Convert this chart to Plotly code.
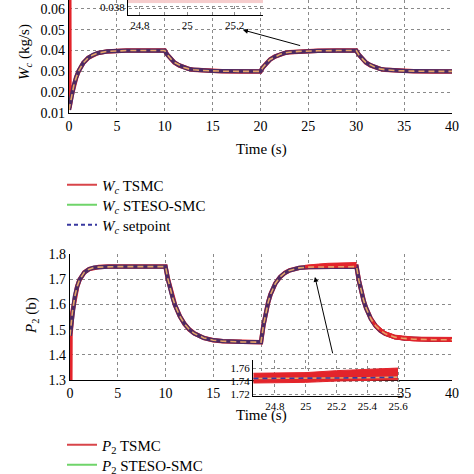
import plotly.graph_objects as go

# ---------------- data ----------------
t_w = [0, 0.25, 0.5, 0.75, 1, 1.5, 2, 2.5, 3, 4, 5, 6, 8, 10,
       10.25, 10.5, 10.75, 11, 11.5, 12, 12.5, 13, 14, 15, 16, 18, 20,
       20.25, 20.5, 20.75, 21, 21.5, 22, 22.5, 23, 24, 25, 26, 28, 30,
       30.25, 30.5, 30.75, 31, 31.5, 32, 32.5, 33, 34, 35, 36, 38, 40]
wc_set = [0.0115, 0.0181, 0.0232, 0.0271, 0.0301, 0.0341, 0.0365, 0.0379, 0.0388, 0.0396, 0.0399, 0.0400, 0.0400, 0.0400,
          0.0381, 0.0366, 0.0354, 0.0343, 0.0329, 0.0319, 0.0312, 0.0308, 0.0304, 0.0302, 0.0301, 0.0300, 0.0300,
          0.0319, 0.0334, 0.0346, 0.0357, 0.0371, 0.0381, 0.0388, 0.0392, 0.0396, 0.0398, 0.0399, 0.0400, 0.0400,
          0.0381, 0.0366, 0.0354, 0.0343, 0.0329, 0.0319, 0.0312, 0.0308, 0.0304, 0.0302, 0.0301, 0.0300, 0.0300]
t_w_spike = [0, 0.02, 0.05]
wc_spike = [0.0115, 0.085, 0.0125]

t_p = t_w
p2_set = [1.476, 1.569, 1.631, 1.671, 1.698, 1.727, 1.740, 1.746, 1.748, 1.750, 1.750, 1.750, 1.750, 1.750,
          1.701, 1.660, 1.626, 1.597, 1.553, 1.522, 1.500, 1.485, 1.467, 1.458, 1.454, 1.451, 1.450,
          1.516, 1.568, 1.608, 1.640, 1.683, 1.709, 1.725, 1.735, 1.745, 1.748, 1.749, 1.750, 1.750,
          1.695, 1.651, 1.615, 1.586, 1.543, 1.515, 1.496, 1.484, 1.470, 1.465, 1.462, 1.460, 1.460]
t_p_spike = [0, 0.02, 0.05]
p2_spike = [1.476, 1.20, 1.480]

# chattering bands of P2 TSMC
t_band_hi = [24.6, 25, 26, 27, 28, 29, 30]
band1_hi = [1.755, 1.757, 1.760, 1.763, 1.765, 1.766, 1.766]
band1_lo = [1.745, 1.746, 1.747, 1.747, 1.748, 1.748, 1.748]
t_band_lo = [31.5, 32, 33, 34, 36, 38, 40]
band2_hi = [1.551, 1.522, 1.492, 1.478, 1.470, 1.469, 1.469]
band2_lo = [1.537, 1.508, 1.478, 1.463, 1.455, 1.453, 1.453]

# top inset (zoom of Wc around t = 25)
t_in1 = [24.75, 25.32]
in1_hi = [0.0400, 0.0400]
in1_lo = [0.03834, 0.03834]

# bottom inset (zoom of P2 around t = 25)
t_in2 = [24.66, 24.8, 25.0, 25.2, 25.4, 25.6]
in2_hi = [1.752, 1.752, 1.753, 1.756, 1.758, 1.760]
in2_lo = [1.737, 1.737, 1.738, 1.740, 1.741, 1.742]
in2_set = [1.744, 1.744, 1.744, 1.745, 1.745, 1.746]

x_ticks = [0, 5, 10, 15, 20, 25, 30, 35, 40]
x_ticktext_top = ["0", "5", "10", "15", "20", "25", "30", "35", "40"]
x_ticktext_bot = ["0", "5", "10", "15", "", "", "", "35", "40"]
wc_ticks = [0.01, 0.02, 0.03, 0.04, 0.05, 0.06]
wc_ticktext = ["0.01", "0.02", "0.03", "0.04", "0.05", "0.06"]
p2_ticks = [1.3, 1.4, 1.5, 1.6, 1.7, 1.8]
p2_ticktext = ["1.3", "1.4", "1.5", "1.6", "1.7", "1.8"]
in1_xticks = [24.8, 25.0, 25.2]
in1_xtext = ["24.8", "25", "25.2"]
in1_yticks = [0.038]
in1_ytext = ["0.038"]
in2_xticks = [24.8, 25.0, 25.2, 25.4, 25.6]
in2_xtext = ["24.8", "25", "25.2", "25.4", "25.6"]
in2_yticks = [1.72, 1.74, 1.76]
in2_ytext = ["1.72", "1.74", "1.76"]

legend_names = ["<i>W</i><sub><i>c</i></sub> TSMC", "<i>W</i><sub><i>c</i></sub> STESO-SMC",
                "<i>W</i><sub><i>c</i></sub> setpoint", "<i>P</i><sub>2</sub> TSMC", "<i>P</i><sub>2</sub> STESO-SMC"]

RED = "#e3242b"
LEG_RED = "#d8454a"
LEG_GREEN = "#6fd46a"
LEG_BLUE = "#3838a0"
DARK = "#4e2a62"
ORANGE = "#e6a468"
FONT = "Liberation Serif"

W = H = 474
def px(x):
    return x / W
def py(y):
    return 1 - y / H

fig = go.Figure()

def band(t, lo, hi, xa, ya, col):
    fig.add_trace(go.Scatter(x=t, y=lo, mode="lines", line=dict(color=col, width=1),
                             xaxis=xa, yaxis=ya, showlegend=False))
    fig.add_trace(go.Scatter(x=t, y=hi, mode="lines", line=dict(color=col, width=1),
                             fill="tonexty", fillcolor=col, xaxis=xa, yaxis=ya, showlegend=False))

def main_lines(t, setv, t_sp, v_sp, xa, ya, bands=()):
    # TSMC
    fig.add_trace(go.Scatter(x=t_sp + t[1:], y=v_sp + setv[1:], mode="lines",
                             line=dict(color=RED, width=4.5), xaxis=xa, yaxis=ya, showlegend=False))
    # STESO-SMC (drawn over the TSMC curve)
    fig.add_trace(go.Scatter(x=t, y=setv, mode="lines", line=dict(color=DARK, width=4.2),
                             xaxis=xa, yaxis=ya, showlegend=False))
    for b in bands:
        band(*b, xa, ya, RED)
    # setpoint
    fig.add_trace(go.Scatter(x=t, y=setv, mode="lines", line=dict(color=ORANGE, width=1.6, dash="6px,4px"),
                             xaxis=xa, yaxis=ya, showlegend=False))

main_lines(t_w, wc_set, t_w_spike, wc_spike, "x", "y")
main_lines(t_p, p2_set, t_p_spike, p2_spike, "x2", "y2",
           bands=[(t_band_hi, band1_lo, band1_hi), (t_band_lo, band2_lo, band2_hi)])

# top inset
band(t_in1, in1_lo, in1_hi, "x3", "y3", "#f6cccc")

# bottom inset
band(t_in2, in2_lo, in2_hi, "x4", "y4", RED)
fig.add_trace(go.Scatter(x=t_in2, y=in2_set, mode="lines", line=dict(color=ORANGE, width=1.6),
                         xaxis="x4", yaxis="y4", showlegend=False))
fig.add_trace(go.Scatter(x=t_in2, y=in2_set, mode="lines", line=dict(color=LEG_BLUE, width=1.6, dash="5px,4px"),
                         xaxis="x4", yaxis="y4", showlegend=False))

# legend entries, one legend per entry
leg_cols = [LEG_RED, LEG_GREEN, LEG_BLUE, LEG_RED, LEG_GREEN]
leg_dash = ["solid", "solid", "4px,3px", "solid", "solid"]
leg_keys = ["legend", "legend2", "legend3", "legend4", "legend5"]
leg_ypix = [185, 205, 225, 445, 465]
leg_axes = [("x", "y")] * 3 + [("x2", "y2")] * 2
legend_layout = {}
for name, col, dash, key, ypix, (xa, ya) in zip(legend_names, leg_cols, leg_dash, leg_keys, leg_ypix, leg_axes):
    fig.add_trace(go.Scatter(x=[None], y=[None], mode="lines", name=name,
                             line=dict(color=col, width=1.8, dash=dash), xaxis=xa, yaxis=ya, legend=key))
    legend_layout[key] = dict(x=px(62), y=py(ypix), xanchor="left", yanchor="middle", bgcolor="rgba(0,0,0,0)",
                              font=dict(family=FONT, size=15, color="black"))

grid = dict(showgrid=True, gridcolor="#8a8a8a", griddash="dot", gridwidth=1, zeroline=False,
            showline=True, linecolor="black", linewidth=1.2, ticks="", mirror=False, automargin=False)
tf = dict(family=FONT, size=14, color="black")
tf_small = dict(family=FONT, size=11, color="black")

fig.update_layout(
    width=W, height=H, margin=dict(l=0, r=0, t=0, b=0, autoexpand=False),
    paper_bgcolor="white", plot_bgcolor="rgba(0,0,0,0)",
    font=dict(family=FONT, color="black"),
    xaxis=dict(domain=[px(69), px(452)], range=[0, 40], tickvals=x_ticks, ticktext=x_ticktext_top,
               tickfont=tf, anchor="y", **grid),
    yaxis=dict(domain=[py(113), 1.0], range=[0.01, 0.0643], tickvals=wc_ticks, ticktext=wc_ticktext,
               tickfont=tf, anchor="x", **grid),
    xaxis2=dict(domain=[px(70), px(452)], range=[0, 40], tickvals=x_ticks, ticktext=x_ticktext_bot,
                tickfont=tf, anchor="y2", **grid),
    yaxis2=dict(domain=[py(380), py(254)], range=[1.3, 1.8], tickvals=p2_ticks, ticktext=p2_ticktext,
                tickfont=tf, anchor="x2", **grid),
    xaxis3=dict(domain=[px(128), px(263)], range=[24.75, 25.32], tickvals=in1_xticks, ticktext=in1_xtext,
                tickfont=tf_small, anchor="y3", **grid),
    yaxis3=dict(domain=[py(15), 1.0], range=[0.03738, 0.03854], tickvals=in1_yticks, ticktext=in1_ytext,
                tickfont=tf_small, anchor="x3", **grid),
    xaxis4=dict(domain=[px(253), px(402)], range=[24.657, 25.626], tickvals=in2_xticks, ticktext=in2_xtext,
                tickfont=tf_small, anchor="y4", **grid),
    yaxis4=dict(domain=[py(396), py(360)], range=[1.717, 1.7724], tickvals=in2_yticks, ticktext=in2_ytext,
                tickfont=tf_small, anchor="x4", **grid),
    **legend_layout,
)

def label(text, x, y, angle=0):
    fig.add_annotation(text=text, xref="paper", yref="paper", x=px(x), y=py(y), xanchor="center",
                       yanchor="middle", showarrow=False, textangle=angle,
                       font=dict(family=FONT, size=15, color="black"))

label("<i>W</i><sub><i>c</i></sub> (kg/s)", 25, 52, -90)
label("<i>P</i><sub>2</sub> (b)", 32, 315, -90)
label("Time (s)", 261, 149)
label("Time (s)", 261, 415)

# arrows
fig.add_annotation(x=18.17, y=0.0499, xref="x", yref="y", ax=24.3, ay=0.0422, axref="x", ayref="y",
                   showarrow=True, arrowhead=2, arrowsize=1, arrowwidth=1, arrowcolor="black", text="")
fig.add_annotation(x=25.65, y=1.709, xref="x2", yref="y2", ax=27.54, ay=1.40, axref="x2", ayref="y2",
                   showarrow=True, arrowhead=2, arrowsize=1, arrowwidth=1, arrowcolor="black", text="")

fig.write_html("out.html")
